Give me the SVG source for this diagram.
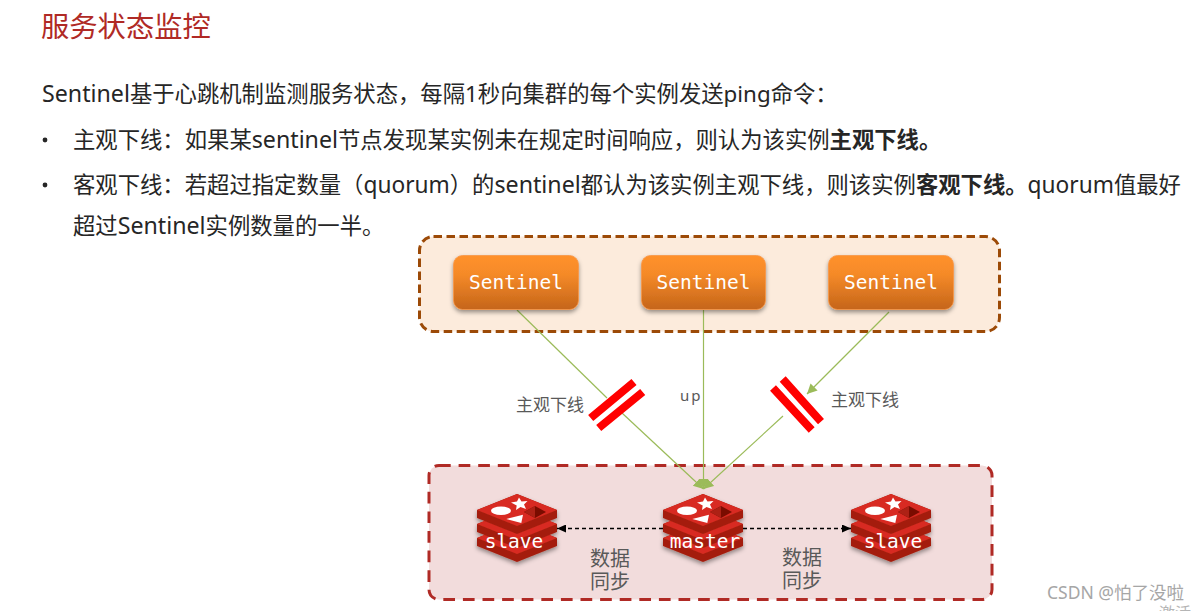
<svg xmlns="http://www.w3.org/2000/svg" width="1199" height="611" viewBox="0 0 1199 611">
<style>
text{font-family:"Noto Sans","Noto Sans CJK SC",sans-serif}
.body{font-size:22.35px;fill:#262626}
.b{font-weight:700}
.l{font-size:23.2px}
.q{font-size:22.7px}
.lab{font-size:17px;fill:#595959}
.sync{font-size:20px;fill:#595959;text-anchor:middle}
.mono{font-family:"DejaVu Sans Mono","Liberation Mono",monospace;fill:#fff;text-anchor:middle}
.sn{font-size:19.5px}
.rn{font-size:19.5px}
.g{stroke:#9bbb59;stroke-width:1.2;fill:none}
.d{stroke:#000;stroke-width:1.3;stroke-dasharray:4 3;fill:none}
.bar{stroke:#f00;stroke-width:8;fill:none}
.box{fill:url(#og);filter:url(#sh);stroke:#f79646;stroke-width:.8}
</style>
<defs>
<linearGradient id="og" x1="0" y1="0" x2="0" y2="1"><stop offset="0" stop-color="#ff912b"/><stop offset=".35" stop-color="#f58a28"/><stop offset="1" stop-color="#c5651a"/></linearGradient>
<filter id="sh" x="-20%" y="-20%" width="140%" height="150%"><feDropShadow dx="0" dy="2.5" stdDeviation="2" flood-color="#000" flood-opacity=".4"/></filter>
<marker id="ga" markerUnits="userSpaceOnUse" markerWidth="11" markerHeight="11" refX="10" refY="5" orient="auto"><path d="M0,0L10,5L0,10Z" fill="#9bbb59"/></marker>
<marker id="ka" markerUnits="userSpaceOnUse" markerWidth="10" markerHeight="8" refX="9" refY="4" orient="auto"><path d="M0,0L9,4L0,8Z" fill="#000"/></marker>
<g id="redis">
<g filter="url(#sh)">
<path d="M0,28L40,44V52L0,68L-40,52V44Z" fill="#a41e11"/>
<path d="M0,28L40,44L0,60L-40,44Z" fill="#d82c20"/>
<path d="M0,14L40,30V38L0,54L-40,38V30Z" fill="#a41e11"/>
<path d="M0,14L40,30L0,46L-40,30Z" fill="#d82c20"/>
<path d="M0,0L40,16V24L0,40L-40,24V16Z" fill="#a41e11"/>
<path d="M0,0L40,16L0,32L-40,16Z" fill="#d82c20"/>
</g>
<ellipse cx="-16" cy="16.700" rx="10" ry="4.300" fill="#fff"/>
<path d="M2,3.500L4.500,7.500L10.500,7L7,10.500L9,15L3.500,13L-1,16L-.3,11.500L-6,8.500L0,7.500Z" fill="#fff"/>
<path d="M-10.700,25L6,20.700L4.300,29Z" fill="#fff"/>
<path d="M7,18L18,12L29,18L18,24Z" fill="#7a0c00"/>
<path d="M7,18L18,12V24Z" fill="#ad2115"/>
</g>
</defs>
<rect width="1199" height="611" fill="#fff"/>
<text x="41" y="37" font-size="28.300" fill="#b02a25">服务状态监控</text>
<text class="body" x="42" y="102"><tspan class="l">Sentinel</tspan>基于心跳机制监测服务状态，每隔1秒向集群的每个实例发送ping命令：</text>
<circle cx="45" cy="140" r="2.400" fill="#262626"/>
<text class="body" x="73" y="148">主观下线：如果某<tspan class="l">sentinel</tspan>节点发现某实例未在规定时间响应，则认为该实例<tspan class="b">主观下线。</tspan></text>
<circle cx="45" cy="185" r="2.400" fill="#262626"/>
<text class="body" x="73" y="193">客观下线：若超过指定数量（<tspan class="q">quorum</tspan>）的<tspan class="l">sentinel</tspan>都认为该实例主观下线，则该实例<tspan class="b">客观下线。</tspan><tspan class="q">quorum</tspan>值最好</text>
<text class="body" x="73" y="234">超过<tspan class="l">Sentinel</tspan>实例数量的一半。</text>
<g id="sentinel-group"><rect x="419.500" y="236.500" width="580" height="95" rx="14" fill="#fcebdc" stroke="#9c4a07" stroke-width="3" stroke-dasharray="8.500 4.500"/></g>
<g id="cluster-group"><rect x="429" y="465.500" width="563" height="134" rx="10" fill="#f2dcdc" stroke="#b02a25" stroke-width="3" stroke-dasharray="11.700 7.900"/></g>
<g id="connectors">
<path class="g" d="M517,310L607,398"/>
<path class="g" d="M622,413L703.500,489" marker-end="url(#ga)"/>
<path class="g" d="M703.500,310V489" marker-end="url(#ga)"/>
<path class="g" d="M889,312L807,394" marker-end="url(#ga)"/>
<path class="g" d="M783,416L703.500,489" marker-end="url(#ga)"/>
<path class="d" d="M663,528.500H557" marker-end="url(#ka)"/>
<path class="d" d="M743,528.500H851" marker-end="url(#ka)"/>
</g>
<g id="s1"><rect class="box" x="453.500" y="255.500" width="125" height="54" rx="9"/><text class="mono sn" x="516" y="289">Sentinel</text></g>
<g id="s2"><rect class="box" x="641.500" y="255.500" width="124" height="54" rx="9"/><text class="mono sn" x="703.500" y="289">Sentinel</text></g>
<g id="s3"><rect class="box" x="828.500" y="255.500" width="125" height="54" rx="9"/><text class="mono sn" x="891" y="289">Sentinel</text></g>
<g id="cut-left"><path class="bar" d="M590.700,418L634,382M598.700,428L642.700,392"/></g>
<g id="cut-right"><path class="bar" d="M782.700,379L821,421.700M773,388L811.700,430"/></g>
<text class="lab" x="516" y="411">主观下线</text>
<text class="lab" x="831" y="406">主观下线</text>
<text x="680" y="401" font-size="15" fill="#595959" font-family="DejaVu Sans Mono,Liberation Mono,monospace" letter-spacing="2">up</text>
<g id="slave1"><use href="#redis" x="517" y="494"/><text class="mono rn" x="514" y="548">slave</text></g>
<g id="master"><use href="#redis" x="703" y="494"/><text class="mono rn" x="705" y="548">master</text></g>
<g id="slave2"><use href="#redis" x="891" y="494"/><text class="mono rn" x="893" y="548">slave</text></g>
<text class="sync" y="566"><tspan x="610">数据</tspan><tspan x="610" dy="23">同步</tspan></text>
<text class="sync" y="565"><tspan x="802">数据</tspan><tspan x="802" dy="23">同步</tspan></text>
<text x="1047" y="599" font-size="17.500" fill="#a6a6a6">CSDN @怕了没啦</text>
<text x="1159" y="619" font-size="16" fill="#b5b5b5">激活</text>
</svg>
